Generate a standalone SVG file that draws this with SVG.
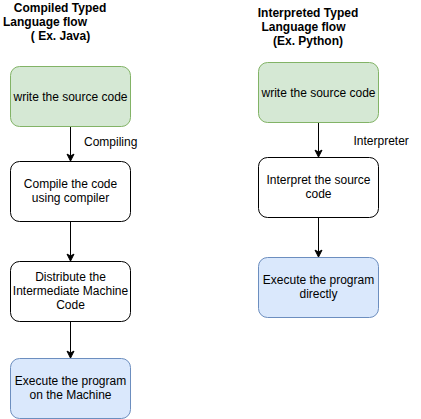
<svg xmlns="http://www.w3.org/2000/svg" width="421" height="419" viewBox="0 0 421 419">
<style>
  text { font-family: "Liberation Sans", Arial, Helvetica, sans-serif; font-size: 12px; fill: #000; }
  .title { font-weight: bold; }
  .node text { text-anchor: middle; }
  .box { stroke-width: 1; }
  .white { fill: #ffffff; stroke: #000000; }
  .green { fill: #d5e8d4; stroke: #82b366; }
  .blue { fill: #dae8fc; stroke: #6c8ebf; }
  .edge { stroke: #000; stroke-width: 1; fill: none; }
  .head { fill: #000; stroke: #000; stroke-width: 1; }
</style>
<rect width="421" height="419" fill="#ffffff"/>

<g id="title-compiled" class="title">
  <text class="title" x="60" y="11.5" text-anchor="middle">Compiled Typed</text>
  <text class="title" x="45" y="25.5" text-anchor="middle">Language flow</text>
  <text class="title" x="60.5" y="39.5" text-anchor="middle">( Ex. Java)</text>
</g>
<g id="title-interpreted" class="title">
  <text class="title" x="308" y="16.5" text-anchor="middle">Interpreted Typed</text>
  <text class="title" x="303.5" y="30.5" text-anchor="middle">Language flow</text>
  <text class="title" x="308" y="44.5" text-anchor="middle">(Ex. Python)</text>
</g>

<g id="connectors">
  <g id="edge-c1">
    <path class="edge" d="M70.5 126.5 L70.5 155.9"/>
    <path class="head" d="M70.5 161.1 L67 154.1 L70.5 155.9 L74 154.1 Z"/>
  </g>
  <g id="edge-c2">
    <path class="edge" d="M70.5 221.5 L70.5 255.9"/>
    <path class="head" d="M70.5 261.1 L67 254.1 L70.5 255.9 L74 254.1 Z"/>
  </g>
  <g id="edge-c3">
    <path class="edge" d="M70.5 321.5 L70.5 352.9"/>
    <path class="head" d="M70.5 358.1 L67 351.1 L70.5 352.9 L74 351.1 Z"/>
  </g>
  <g id="edge-i1">
    <path class="edge" d="M318.5 122.5 L318.5 151.9"/>
    <path class="head" d="M318.5 157.1 L315 150.1 L318.5 151.9 L322 150.1 Z"/>
  </g>
  <g id="edge-i2">
    <path class="edge" d="M318.5 217.5 L318.5 251.9"/>
    <path class="head" d="M318.5 257.1 L315 250.1 L318.5 251.9 L322 250.1 Z"/>
  </g>
  <text x="84" y="145.5">Compiling</text>
  <text x="353.5" y="144.5">Interpreter</text>
</g>

<g id="c-write" class="node">
  <rect class="box green" x="10.5" y="66.5" width="120" height="60" rx="9" ry="9"/>
  <text x="70.5" y="100.5">write the source code</text>
</g>
<g id="c-compile" class="node">
  <rect class="box white" x="10.5" y="161.5" width="120" height="60" rx="9" ry="9"/>
  <text x="70.5" y="188">Compile the code</text>
  <text x="70.5" y="202">using compiler</text>
</g>
<g id="c-distribute" class="node">
  <rect class="box white" x="10.5" y="261.5" width="120" height="60" rx="9" ry="9"/>
  <text x="70.5" y="281">Distribute the</text>
  <text x="70.5" y="295">Intermediate Machine</text>
  <text x="70.5" y="309">Code</text>
</g>
<g id="c-execute" class="node">
  <rect class="box blue" x="10.5" y="358.5" width="120" height="60" rx="9" ry="9"/>
  <text x="70.5" y="385">Execute the program</text>
  <text x="70.5" y="399">on the Machine</text>
</g>

<g id="i-write" class="node">
  <rect class="box green" x="258.5" y="62.5" width="120" height="60" rx="9" ry="9"/>
  <text x="318.5" y="96.5">write the source code</text>
</g>
<g id="i-interpret" class="node">
  <rect class="box white" x="258.5" y="157.5" width="120" height="60" rx="9" ry="9"/>
  <text x="318.5" y="184">Interpret the source</text>
  <text x="318.5" y="198">code</text>
</g>
<g id="i-execute" class="node">
  <rect class="box blue" x="258.5" y="257.5" width="120" height="60" rx="9" ry="9"/>
  <text x="318.5" y="284">Execute the program</text>
  <text x="318.5" y="298">directly</text>
</g>
</svg>
